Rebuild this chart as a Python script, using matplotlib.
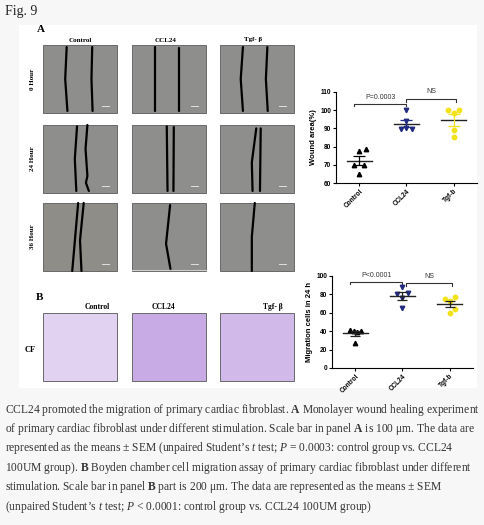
import numpy as np
import matplotlib
matplotlib.use('Agg')
import matplotlib.pyplot as plt
from matplotlib.patches import Rectangle

# ---- data ----
groups = ['Control', 'CCL24', 'Tgf-b']
wound_control = [77.8, 78.7, 70.0, 70.0, 64.9]
wound_ccl24 = [100.1, 93.8, 89.6, 90.0, 89.6]
wound_tgf = [100.1, 100.1, 98.4, 89.1, 85.3]
migr_control = [41.3, 40.5, 40.0, 39.2, 27.5]
migr_ccl24 = [88.4, 80.4, 81.8, 75.7, 65.2]
migr_tgf = [74.6, 77.5, 72.6, 63.8, 59.5]

img_cols = ['Control', 'CCL24', 'Tgf- \u03b2']
img_rows = ['0 Hour', '24 Hour', '36 Hour']

# horizontal spread of the dots (scatter layout, in category units)
wound_offsets = [[-0.01, 0.13, -0.12, 0.09, 0.0], [0.0, 0.0, -0.11, 0.0, 0.12], [-0.11, 0.11, 0.0, 0.0, 0.0]]
migr_offsets = [[-0.12, 0.12, -0.04, 0.04, 0.0], [0.0, -0.11, 0.11, 0.0, 0.0], [-0.1, 0.11, 0.0, 0.11, 0.0]]

# wound edges drawn on each photo, (x frac, y frac) points
wound_edges = [
    [[[0.32, 0.03], [0.30, 0.5], [0.33, 0.97]], [[0.665, 0.03], [0.655, 0.5], [0.67, 0.97]],
     [[0.305, 0.03], [0.305, 0.97]], [[0.64, 0.05], [0.64, 0.97]],
     [[0.31, 0.03], [0.28, 0.5], [0.31, 0.97]], [[0.64, 0.03], [0.62, 0.5], [0.645, 0.97]]],
    [[[0.46, 0.02], [0.43, 0.5], [0.45, 0.97]], [[0.60, 0.0], [0.575, 0.35], [0.60, 0.75], [0.58, 0.85], [0.62, 0.97]],
     [[0.47, 0.02], [0.48, 0.97]], [[0.565, 0.03], [0.56, 0.97]],
     [[0.49, 0.05], [0.43, 0.55], [0.44, 0.97]], [[0.55, 0.05], [0.54, 0.97]]],
    [[[0.475, 0.0], [0.395, 1.0]], [[0.55, 0.0], [0.50, 0.55], [0.52, 1.0]],
     [[0.515, 0.03], [0.46, 0.6], [0.52, 0.97]], [],
     [[0.47, 0.0], [0.43, 0.5], [0.43, 1.0]], []],
]

plt.rcParams['mathtext.fontset'] = 'custom'
plt.rcParams['mathtext.rm'] = 'Liberation Serif'
plt.rcParams['mathtext.bf'] = 'Liberation Serif:bold'
plt.rcParams['mathtext.it'] = 'Liberation Serif:italic'

W, H = 485, 525
fig = plt.figure(figsize=(4.85, 5.25), dpi=100)
fig.patch.set_facecolor('#f7f7f7')

ax0 = fig.add_axes([0, 0, 1, 1])
ax0.set_xlim(0, W)
ax0.set_ylim(H, 0)
ax0.axis('off')

ax0.add_patch(Rectangle((19, 25), 458, 363, facecolor='white', edgecolor='none'))
ax0.text(5, 12, 'Fig. 9', fontsize=10, family='Liberation Serif', va='center', color='#222222')

serif = 'Liberation Serif'
ax0.text(37, 30, 'A', fontsize=8, family=serif, weight='bold', va='center')
ax0.text(36, 297, 'B', fontsize=8, family=serif, weight='bold', va='center')

col_x = [43, 132, 220]
row_y = [45, 125, 203]
pw, ph = 74, 68
head_x = [80, 166, 253]
for j, c in enumerate(img_cols):
    ax0.text(head_x[j], 40, c, fontsize=5, family=serif, weight='bold', ha='center', va='center')
for i, r in enumerate(img_rows):
    ax0.text(33, row_y[i] + ph / 2, r, fontsize=5, family=serif, weight='bold',
             ha='center', va='center', rotation=90)
    for j in range(3):
        x0, y0 = col_x[j], row_y[i]
        fc = '#8e8e8c' if not (i == 2 and j == 0) else '#8f8d88'
        ax0.add_patch(Rectangle((x0, y0), pw, ph, facecolor=fc, edgecolor='#5a5a5a', lw=0.6))
        ax0.add_patch(Rectangle((x0 + pw * 0.8, y0 + ph * 0.9), pw * 0.1, 1.2, facecolor='#dddddd', edgecolor='none'))
        for edge in wound_edges[i][2 * j:2 * j + 2]:
            if edge:
                ex = [x0 + p[0] * pw for p in edge]
                ey = [y0 + p[1] * ph for p in edge]
                ax0.plot(ex, ey, color='black', lw=1.6, solid_capstyle='round')
ax0.plot([132, 206], [270, 270], color='#cccccc', lw=0.8)

b_head_x = [97, 163, 273]
b_col_x = [43, 132, 220]
b_fc = ['#e0d2f0', '#c8aae4', '#d1b9e9']
for j, c in enumerate(img_cols):
    ax0.text(b_head_x[j], 307, c, fontsize=5.5, family=serif, weight='bold', ha='center', va='center')
    ax0.add_patch(Rectangle((b_col_x[j], 313), 74, 68, facecolor=b_fc[j], edgecolor='#6a6a6a', lw=0.7))
ax0.text(25, 350, 'CF', fontsize=6, family=serif, weight='bold', va='center')

# caption
caption = [
    'CCL24 promoted the migration of primary cardiac fibroblast. $\\mathbf{A}$ Monolayer wound healing experiment',
    'of primary cardiac fibroblast under different stimulation. Scale bar in panel $\\mathbf{A}$ is 100 \u03bcm. The data are',
    'represented as the means \u00b1 SEM (unpaired Student\u2019s $\\mathit{t}$ test; $\\mathit{P}$ = 0.0003: control group vs. CCL24',
    '100UM group). $\\mathbf{B}$ Boyden chamber cell migration assay of primary cardiac fibroblast under different',
    'stimulation. Scale bar in panel $\\mathbf{B}$ part is 200 \u03bcm. The data are represented as the means \u00b1 SEM',
    '(unpaired Student\u2019s $\\mathit{t}$ test; $\\mathit{P}$ < 0.0001: control group vs. CCL24 100UM group)',
]
cap_y = [410, 429, 448, 468, 487, 507]
for line, yy in zip(caption, cap_y):
    ax0.text(5, yy, line, fontsize=8.3, family=serif, va='center', color='#333333')


def px_axes(left, top, right, bottom):
    return fig.add_axes([left / W, 1 - bottom / H, (right - left) / W, (bottom - top) / H])


colors = ['black', '#1f2a80', '#f2e21c']
markers = ['^', 'v', 'o']
sans = 'Liberation Sans'


def scatter_panel(ax, data, offsets, err_colors, cap, ylim, yticks, ylabel, brackets):
    for k, vals in enumerate(data):
        n = len(vals)
        ax.plot(k + np.array(offsets[k]), vals, linestyle='none', marker=markers[k], ms=3.2,
                color=colors[k], clip_on=False, zorder=2)
        m = np.mean(vals)
        sem = np.std(vals, ddof=1) / np.sqrt(n)
        ax.plot([k - 0.27, k + 0.27], [m, m], color='#222222', lw=1, zorder=3)
        ax.errorbar([k], [m], yerr=[sem], color=err_colors[k], capsize=cap, lw=0.9,
                    capthick=0.9, zorder=3)
    ax.set_xlim(-0.5, 2.5)
    ax.set_ylim(*ylim)
    ax.set_yticks(yticks)
    ax.set_xticks(range(3))
    ax.set_xticklabels(groups, rotation=45, ha='right', rotation_mode='anchor')
    for s in ['top', 'right']:
        ax.spines[s].set_visible(False)
    for s in ['left', 'bottom']:
        ax.spines[s].set_linewidth(0.8)
    ax.tick_params(length=2, width=0.8, pad=1.5)
    for lab in ax.get_xticklabels() + ax.get_yticklabels():
        lab.set_fontsize(4.7)
        lab.set_fontweight('bold')
        lab.set_family(sans)
    ax.set_ylabel(ylabel, fontsize=5.5, fontweight='bold', family=sans, labelpad=2)
    for (a, b, yb, txt, yt) in brackets:
        d = (ylim[1] - ylim[0]) * 0.025
        ax.plot([a, a, b, b], [yb - d, yb, yb, yb - d], color='#333333', lw=0.8, clip_on=False)
        ax.text((a + b) / 2, yt, txt, fontsize=5, family=sans, ha='center', va='center',
                color='#333333')
    ax.patch.set_alpha(0)


ax1 = px_axes(336, 92, 477, 183)
scatter_panel(ax1, [wound_control, wound_ccl24, wound_tgf], wound_offsets,
              ['black', '#1f2a80', '#f2e21c'], 4.5, (60, 110), range(60, 111, 10),
              'Wound area(%)', [(-0.12, 1.0, 103.6, 'P=0.0003', 106.9), (1.0, 2.05, 106.0, 'NS', 110.4)])

ax2 = px_axes(332, 276, 473, 368)
scatter_panel(ax2, [migr_control, migr_ccl24, migr_tgf], migr_offsets,
              ['#222222', '#222222', '#222222'], 3.5, (0, 100), range(0, 101, 20),
              'Migration cells in 24 h', [(-0.12, 1.0, 94.0, 'P<0.0001', 101.0), (1.08, 2.05, 92.0, 'NS', 100.0)])

fig.savefig('out.png', dpi=100, facecolor=fig.get_facecolor())
